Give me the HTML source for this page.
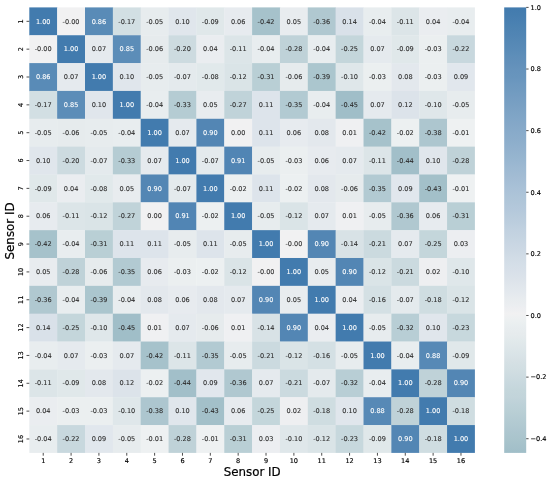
<!DOCTYPE html>
<html lang="en"><head><meta charset="utf-8"><title>Sensor correlation heatmap</title>
<style>html,body{margin:0;padding:0;background:#fff}body{width:550px;height:480px;overflow:hidden}svg{display:block}text{font-family:"DejaVu Sans","Liberation Sans",sans-serif}.a{font-size:6.55px;text-anchor:middle;fill:#2e2e2e;stroke:#2e2e2e;stroke-width:.1px}.w{fill:#fff;stroke:#fff}.t{font-size:6.55px;fill:#000;stroke:#000;stroke-width:.15px}.l{font-size:11.85px;fill:#000;text-anchor:middle;stroke:#000;stroke-width:.2px}.k{stroke:#000;stroke-width:0.7;fill:none}</style></head><body>
<svg width="550" height="480" viewBox="0 0 550 480">
<defs><linearGradient id="cb" x1="0" y1="1" x2="0" y2="0">
<stop offset="0.0000" stop-color="#a0bec8"/>
<stop offset="0.0156" stop-color="#a5c1ca"/>
<stop offset="0.0312" stop-color="#a9c4cc"/>
<stop offset="0.0469" stop-color="#adc6cf"/>
<stop offset="0.0625" stop-color="#b1c9d1"/>
<stop offset="0.0781" stop-color="#b5ccd3"/>
<stop offset="0.0938" stop-color="#b9cfd5"/>
<stop offset="0.1094" stop-color="#bdd1d8"/>
<stop offset="0.1250" stop-color="#c2d4da"/>
<stop offset="0.1406" stop-color="#c4d6db"/>
<stop offset="0.1562" stop-color="#c8d8de"/>
<stop offset="0.1719" stop-color="#cddbe0"/>
<stop offset="0.1875" stop-color="#d1dee2"/>
<stop offset="0.2031" stop-color="#d5e0e4"/>
<stop offset="0.2188" stop-color="#d9e3e7"/>
<stop offset="0.2344" stop-color="#dde6e9"/>
<stop offset="0.2500" stop-color="#e1e9eb"/>
<stop offset="0.2656" stop-color="#e6ebed"/>
<stop offset="0.2812" stop-color="#e8edef"/>
<stop offset="0.2969" stop-color="#ecf0f1"/>
<stop offset="0.3125" stop-color="#f1f1f2"/>
<stop offset="0.3281" stop-color="#eceef1"/>
<stop offset="0.3438" stop-color="#e8ecef"/>
<stop offset="0.3594" stop-color="#e4e9ee"/>
<stop offset="0.3750" stop-color="#e0e6ec"/>
<stop offset="0.3906" stop-color="#dce3ea"/>
<stop offset="0.4062" stop-color="#d8e0e9"/>
<stop offset="0.4219" stop-color="#d5dfe8"/>
<stop offset="0.4375" stop-color="#d1dce6"/>
<stop offset="0.4531" stop-color="#cdd9e4"/>
<stop offset="0.4688" stop-color="#c9d6e3"/>
<stop offset="0.4844" stop-color="#c5d4e1"/>
<stop offset="0.5000" stop-color="#c1d1e0"/>
<stop offset="0.5156" stop-color="#bccede"/>
<stop offset="0.5312" stop-color="#b8cbdc"/>
<stop offset="0.5469" stop-color="#b4c8db"/>
<stop offset="0.5625" stop-color="#b0c6d9"/>
<stop offset="0.5781" stop-color="#adc4d8"/>
<stop offset="0.5938" stop-color="#a9c1d7"/>
<stop offset="0.6094" stop-color="#a5bed5"/>
<stop offset="0.6250" stop-color="#a1bbd3"/>
<stop offset="0.6406" stop-color="#9db9d2"/>
<stop offset="0.6562" stop-color="#98b6d0"/>
<stop offset="0.6719" stop-color="#94b3ce"/>
<stop offset="0.6875" stop-color="#90b0cd"/>
<stop offset="0.7031" stop-color="#8cadcb"/>
<stop offset="0.7188" stop-color="#89abca"/>
<stop offset="0.7344" stop-color="#85a8c8"/>
<stop offset="0.7500" stop-color="#81a6c7"/>
<stop offset="0.7656" stop-color="#7da3c5"/>
<stop offset="0.7812" stop-color="#79a0c3"/>
<stop offset="0.7969" stop-color="#759dc2"/>
<stop offset="0.8125" stop-color="#719bc0"/>
<stop offset="0.8281" stop-color="#6d98bf"/>
<stop offset="0.8438" stop-color="#6895bd"/>
<stop offset="0.8594" stop-color="#6693bc"/>
<stop offset="0.8750" stop-color="#6290ba"/>
<stop offset="0.8906" stop-color="#5e8eb9"/>
<stop offset="0.9062" stop-color="#598bb7"/>
<stop offset="0.9219" stop-color="#5588b5"/>
<stop offset="0.9375" stop-color="#5185b4"/>
<stop offset="0.9531" stop-color="#4d83b2"/>
<stop offset="0.9688" stop-color="#4980b1"/>
<stop offset="0.9844" stop-color="#457daf"/>
<stop offset="1.0000" stop-color="#427bae"/>
</linearGradient></defs>
<rect width="550" height="480" fill="#fff"/>
<g>
<rect x="29.30" y="7.40" width="28.15" height="28.14" fill="#427bae"/>
<rect x="57.15" y="7.40" width="28.15" height="28.14" fill="#f1f1f2"/>
<rect x="85.00" y="7.40" width="28.15" height="28.14" fill="#598bb7"/>
<rect x="112.85" y="7.40" width="28.15" height="28.14" fill="#d2dfe3"/>
<rect x="140.70" y="7.40" width="28.15" height="28.14" fill="#e7ecee"/>
<rect x="168.55" y="7.40" width="28.15" height="28.14" fill="#e0e6ec"/>
<rect x="196.40" y="7.40" width="28.15" height="28.14" fill="#e0e8ea"/>
<rect x="224.25" y="7.40" width="28.15" height="28.14" fill="#e7ebef"/>
<rect x="252.10" y="7.40" width="28.15" height="28.14" fill="#a6c2cb"/>
<rect x="279.95" y="7.40" width="28.15" height="28.14" fill="#e8ecef"/>
<rect x="307.80" y="7.40" width="28.15" height="28.14" fill="#b0c8d0"/>
<rect x="335.65" y="7.40" width="28.15" height="28.14" fill="#d9e1e9"/>
<rect x="363.50" y="7.40" width="28.15" height="28.14" fill="#e8edef"/>
<rect x="391.35" y="7.40" width="28.15" height="28.14" fill="#dce5e8"/>
<rect x="419.20" y="7.40" width="28.15" height="28.14" fill="#eaedf0"/>
<rect x="447.05" y="7.40" width="27.85" height="28.14" fill="#e8edef"/>
<rect x="29.30" y="35.24" width="28.15" height="28.14" fill="#f1f1f2"/>
<rect x="57.15" y="35.24" width="28.15" height="28.14" fill="#427bae"/>
<rect x="85.00" y="35.24" width="28.15" height="28.14" fill="#e5eaee"/>
<rect x="112.85" y="35.24" width="28.15" height="28.14" fill="#5c8db8"/>
<rect x="140.70" y="35.24" width="28.15" height="28.14" fill="#e6ebed"/>
<rect x="168.55" y="35.24" width="28.15" height="28.14" fill="#cddbe0"/>
<rect x="196.40" y="35.24" width="28.15" height="28.14" fill="#eaedf0"/>
<rect x="224.25" y="35.24" width="28.15" height="28.14" fill="#dce5e8"/>
<rect x="252.10" y="35.24" width="28.15" height="28.14" fill="#e8edef"/>
<rect x="279.95" y="35.24" width="28.15" height="28.14" fill="#bfd2d8"/>
<rect x="307.80" y="35.24" width="28.15" height="28.14" fill="#e8edef"/>
<rect x="335.65" y="35.24" width="28.15" height="28.14" fill="#c4d6db"/>
<rect x="363.50" y="35.24" width="28.15" height="28.14" fill="#e5eaee"/>
<rect x="391.35" y="35.24" width="28.15" height="28.14" fill="#e0e8ea"/>
<rect x="419.20" y="35.24" width="28.15" height="28.14" fill="#ebeff0"/>
<rect x="447.05" y="35.24" width="27.85" height="28.14" fill="#c8d8de"/>
<rect x="29.30" y="63.09" width="28.15" height="28.14" fill="#598bb7"/>
<rect x="57.15" y="63.09" width="28.15" height="28.14" fill="#e5eaee"/>
<rect x="85.00" y="63.09" width="28.15" height="28.14" fill="#427bae"/>
<rect x="112.85" y="63.09" width="28.15" height="28.14" fill="#e0e6ec"/>
<rect x="140.70" y="63.09" width="28.15" height="28.14" fill="#e7ecee"/>
<rect x="168.55" y="63.09" width="28.15" height="28.14" fill="#e4eaed"/>
<rect x="196.40" y="63.09" width="28.15" height="28.14" fill="#e1e9eb"/>
<rect x="224.25" y="63.09" width="28.15" height="28.14" fill="#dae4e7"/>
<rect x="252.10" y="63.09" width="28.15" height="28.14" fill="#b9cfd5"/>
<rect x="279.95" y="63.09" width="28.15" height="28.14" fill="#e6ebed"/>
<rect x="307.80" y="63.09" width="28.15" height="28.14" fill="#abc6ce"/>
<rect x="335.65" y="63.09" width="28.15" height="28.14" fill="#dfe7ea"/>
<rect x="363.50" y="63.09" width="28.15" height="28.14" fill="#ebeff0"/>
<rect x="391.35" y="63.09" width="28.15" height="28.14" fill="#e3e8ed"/>
<rect x="419.20" y="63.09" width="28.15" height="28.14" fill="#ebeff0"/>
<rect x="447.05" y="63.09" width="27.85" height="28.14" fill="#e1e7ed"/>
<rect x="29.30" y="90.93" width="28.15" height="28.14" fill="#d2dfe3"/>
<rect x="57.15" y="90.93" width="28.15" height="28.14" fill="#5c8db8"/>
<rect x="85.00" y="90.93" width="28.15" height="28.14" fill="#e0e6ec"/>
<rect x="112.85" y="90.93" width="28.15" height="28.14" fill="#427bae"/>
<rect x="140.70" y="90.93" width="28.15" height="28.14" fill="#e8edef"/>
<rect x="168.55" y="90.93" width="28.15" height="28.14" fill="#b5ccd3"/>
<rect x="196.40" y="90.93" width="28.15" height="28.14" fill="#e8ecef"/>
<rect x="224.25" y="90.93" width="28.15" height="28.14" fill="#c0d3d9"/>
<rect x="252.10" y="90.93" width="28.15" height="28.14" fill="#dde4eb"/>
<rect x="279.95" y="90.93" width="28.15" height="28.14" fill="#b2cad2"/>
<rect x="307.80" y="90.93" width="28.15" height="28.14" fill="#e8edef"/>
<rect x="335.65" y="90.93" width="28.15" height="28.14" fill="#a0bec8"/>
<rect x="363.50" y="90.93" width="28.15" height="28.14" fill="#e5eaee"/>
<rect x="391.35" y="90.93" width="28.15" height="28.14" fill="#dce3ea"/>
<rect x="419.20" y="90.93" width="28.15" height="28.14" fill="#dfe7ea"/>
<rect x="447.05" y="90.93" width="27.85" height="28.14" fill="#e7ecee"/>
<rect x="29.30" y="118.78" width="28.15" height="28.14" fill="#e7ecee"/>
<rect x="57.15" y="118.78" width="28.15" height="28.14" fill="#e6ebed"/>
<rect x="85.00" y="118.78" width="28.15" height="28.14" fill="#e7ecee"/>
<rect x="112.85" y="118.78" width="28.15" height="28.14" fill="#e8edef"/>
<rect x="140.70" y="118.78" width="28.15" height="28.14" fill="#427bae"/>
<rect x="168.55" y="118.78" width="28.15" height="28.14" fill="#e5eaee"/>
<rect x="196.40" y="118.78" width="28.15" height="28.14" fill="#5386b4"/>
<rect x="224.25" y="118.78" width="28.15" height="28.14" fill="#f1f1f2"/>
<rect x="252.10" y="118.78" width="28.15" height="28.14" fill="#dde4eb"/>
<rect x="279.95" y="118.78" width="28.15" height="28.14" fill="#e7ebef"/>
<rect x="307.80" y="118.78" width="28.15" height="28.14" fill="#e3e8ed"/>
<rect x="335.65" y="118.78" width="28.15" height="28.14" fill="#eff0f2"/>
<rect x="363.50" y="118.78" width="28.15" height="28.14" fill="#a6c2cb"/>
<rect x="391.35" y="118.78" width="28.15" height="28.14" fill="#ecf0f1"/>
<rect x="419.20" y="118.78" width="28.15" height="28.14" fill="#adc6cf"/>
<rect x="447.05" y="118.78" width="27.85" height="28.14" fill="#eef1f2"/>
<rect x="29.30" y="146.62" width="28.15" height="28.14" fill="#e0e6ec"/>
<rect x="57.15" y="146.62" width="28.15" height="28.14" fill="#cddbe0"/>
<rect x="85.00" y="146.62" width="28.15" height="28.14" fill="#e4eaed"/>
<rect x="112.85" y="146.62" width="28.15" height="28.14" fill="#b5ccd3"/>
<rect x="140.70" y="146.62" width="28.15" height="28.14" fill="#e5eaee"/>
<rect x="168.55" y="146.62" width="28.15" height="28.14" fill="#427bae"/>
<rect x="196.40" y="146.62" width="28.15" height="28.14" fill="#e4eaed"/>
<rect x="224.25" y="146.62" width="28.15" height="28.14" fill="#5185b4"/>
<rect x="252.10" y="146.62" width="28.15" height="28.14" fill="#e7ecee"/>
<rect x="279.95" y="146.62" width="28.15" height="28.14" fill="#ebeff0"/>
<rect x="307.80" y="146.62" width="28.15" height="28.14" fill="#e7ebef"/>
<rect x="335.65" y="146.62" width="28.15" height="28.14" fill="#e5eaee"/>
<rect x="363.50" y="146.62" width="28.15" height="28.14" fill="#dce5e8"/>
<rect x="391.35" y="146.62" width="28.15" height="28.14" fill="#a2bfc9"/>
<rect x="419.20" y="146.62" width="28.15" height="28.14" fill="#e0e6ec"/>
<rect x="447.05" y="146.62" width="27.85" height="28.14" fill="#bfd2d8"/>
<rect x="29.30" y="174.46" width="28.15" height="28.14" fill="#e0e8ea"/>
<rect x="57.15" y="174.46" width="28.15" height="28.14" fill="#eaedf0"/>
<rect x="85.00" y="174.46" width="28.15" height="28.14" fill="#e1e9eb"/>
<rect x="112.85" y="174.46" width="28.15" height="28.14" fill="#e8ecef"/>
<rect x="140.70" y="174.46" width="28.15" height="28.14" fill="#5386b4"/>
<rect x="168.55" y="174.46" width="28.15" height="28.14" fill="#e4eaed"/>
<rect x="196.40" y="174.46" width="28.15" height="28.14" fill="#427bae"/>
<rect x="224.25" y="174.46" width="28.15" height="28.14" fill="#ecf0f1"/>
<rect x="252.10" y="174.46" width="28.15" height="28.14" fill="#dde4eb"/>
<rect x="279.95" y="174.46" width="28.15" height="28.14" fill="#ecf0f1"/>
<rect x="307.80" y="174.46" width="28.15" height="28.14" fill="#e3e8ed"/>
<rect x="335.65" y="174.46" width="28.15" height="28.14" fill="#e6ebed"/>
<rect x="363.50" y="174.46" width="28.15" height="28.14" fill="#b2cad2"/>
<rect x="391.35" y="174.46" width="28.15" height="28.14" fill="#e1e7ed"/>
<rect x="419.20" y="174.46" width="28.15" height="28.14" fill="#a3c0c9"/>
<rect x="447.05" y="174.46" width="27.85" height="28.14" fill="#eef1f2"/>
<rect x="29.30" y="202.31" width="28.15" height="28.14" fill="#e7ebef"/>
<rect x="57.15" y="202.31" width="28.15" height="28.14" fill="#dce5e8"/>
<rect x="85.00" y="202.31" width="28.15" height="28.14" fill="#dae4e7"/>
<rect x="112.85" y="202.31" width="28.15" height="28.14" fill="#c0d3d9"/>
<rect x="140.70" y="202.31" width="28.15" height="28.14" fill="#f1f1f2"/>
<rect x="168.55" y="202.31" width="28.15" height="28.14" fill="#5185b4"/>
<rect x="196.40" y="202.31" width="28.15" height="28.14" fill="#ecf0f1"/>
<rect x="224.25" y="202.31" width="28.15" height="28.14" fill="#427bae"/>
<rect x="252.10" y="202.31" width="28.15" height="28.14" fill="#e7ecee"/>
<rect x="279.95" y="202.31" width="28.15" height="28.14" fill="#dae4e7"/>
<rect x="307.80" y="202.31" width="28.15" height="28.14" fill="#e5eaee"/>
<rect x="335.65" y="202.31" width="28.15" height="28.14" fill="#eff0f2"/>
<rect x="363.50" y="202.31" width="28.15" height="28.14" fill="#e7ecee"/>
<rect x="391.35" y="202.31" width="28.15" height="28.14" fill="#b0c8d0"/>
<rect x="419.20" y="202.31" width="28.15" height="28.14" fill="#e7ebef"/>
<rect x="447.05" y="202.31" width="27.85" height="28.14" fill="#b9cfd5"/>
<rect x="29.30" y="230.15" width="28.15" height="28.14" fill="#a6c2cb"/>
<rect x="57.15" y="230.15" width="28.15" height="28.14" fill="#e8edef"/>
<rect x="85.00" y="230.15" width="28.15" height="28.14" fill="#b9cfd5"/>
<rect x="112.85" y="230.15" width="28.15" height="28.14" fill="#dde4eb"/>
<rect x="140.70" y="230.15" width="28.15" height="28.14" fill="#dde4eb"/>
<rect x="168.55" y="230.15" width="28.15" height="28.14" fill="#e7ecee"/>
<rect x="196.40" y="230.15" width="28.15" height="28.14" fill="#dde4eb"/>
<rect x="224.25" y="230.15" width="28.15" height="28.14" fill="#e7ecee"/>
<rect x="252.10" y="230.15" width="28.15" height="28.14" fill="#427bae"/>
<rect x="279.95" y="230.15" width="28.15" height="28.14" fill="#f1f1f2"/>
<rect x="307.80" y="230.15" width="28.15" height="28.14" fill="#5386b4"/>
<rect x="335.65" y="230.15" width="28.15" height="28.14" fill="#d8e2e6"/>
<rect x="363.50" y="230.15" width="28.15" height="28.14" fill="#cbdadf"/>
<rect x="391.35" y="230.15" width="28.15" height="28.14" fill="#e5eaee"/>
<rect x="419.20" y="230.15" width="28.15" height="28.14" fill="#c4d6db"/>
<rect x="447.05" y="230.15" width="27.85" height="28.14" fill="#eceef1"/>
<rect x="29.30" y="257.99" width="28.15" height="28.14" fill="#e8ecef"/>
<rect x="57.15" y="257.99" width="28.15" height="28.14" fill="#bfd2d8"/>
<rect x="85.00" y="257.99" width="28.15" height="28.14" fill="#e6ebed"/>
<rect x="112.85" y="257.99" width="28.15" height="28.14" fill="#b2cad2"/>
<rect x="140.70" y="257.99" width="28.15" height="28.14" fill="#e7ebef"/>
<rect x="168.55" y="257.99" width="28.15" height="28.14" fill="#ebeff0"/>
<rect x="196.40" y="257.99" width="28.15" height="28.14" fill="#ecf0f1"/>
<rect x="224.25" y="257.99" width="28.15" height="28.14" fill="#dae4e7"/>
<rect x="252.10" y="257.99" width="28.15" height="28.14" fill="#f1f1f2"/>
<rect x="279.95" y="257.99" width="28.15" height="28.14" fill="#427bae"/>
<rect x="307.80" y="257.99" width="28.15" height="28.14" fill="#e8ecef"/>
<rect x="335.65" y="257.99" width="28.15" height="28.14" fill="#5386b4"/>
<rect x="363.50" y="257.99" width="28.15" height="28.14" fill="#dae4e7"/>
<rect x="391.35" y="257.99" width="28.15" height="28.14" fill="#cbdadf"/>
<rect x="419.20" y="257.99" width="28.15" height="28.14" fill="#eeeff1"/>
<rect x="447.05" y="257.99" width="27.85" height="28.14" fill="#dfe7ea"/>
<rect x="29.30" y="285.84" width="28.15" height="28.14" fill="#b0c8d0"/>
<rect x="57.15" y="285.84" width="28.15" height="28.14" fill="#e8edef"/>
<rect x="85.00" y="285.84" width="28.15" height="28.14" fill="#abc6ce"/>
<rect x="112.85" y="285.84" width="28.15" height="28.14" fill="#e8edef"/>
<rect x="140.70" y="285.84" width="28.15" height="28.14" fill="#e3e8ed"/>
<rect x="168.55" y="285.84" width="28.15" height="28.14" fill="#e7ebef"/>
<rect x="196.40" y="285.84" width="28.15" height="28.14" fill="#e3e8ed"/>
<rect x="224.25" y="285.84" width="28.15" height="28.14" fill="#e5eaee"/>
<rect x="252.10" y="285.84" width="28.15" height="28.14" fill="#5386b4"/>
<rect x="279.95" y="285.84" width="28.15" height="28.14" fill="#e8ecef"/>
<rect x="307.80" y="285.84" width="28.15" height="28.14" fill="#427bae"/>
<rect x="335.65" y="285.84" width="28.15" height="28.14" fill="#eaedf0"/>
<rect x="363.50" y="285.84" width="28.15" height="28.14" fill="#d4e0e4"/>
<rect x="391.35" y="285.84" width="28.15" height="28.14" fill="#e4eaed"/>
<rect x="419.20" y="285.84" width="28.15" height="28.14" fill="#cfdde1"/>
<rect x="447.05" y="285.84" width="27.85" height="28.14" fill="#dae4e7"/>
<rect x="29.30" y="313.68" width="28.15" height="28.14" fill="#d9e1e9"/>
<rect x="57.15" y="313.68" width="28.15" height="28.14" fill="#c4d6db"/>
<rect x="85.00" y="313.68" width="28.15" height="28.14" fill="#dfe7ea"/>
<rect x="112.85" y="313.68" width="28.15" height="28.14" fill="#a0bec8"/>
<rect x="140.70" y="313.68" width="28.15" height="28.14" fill="#eff0f2"/>
<rect x="168.55" y="313.68" width="28.15" height="28.14" fill="#e5eaee"/>
<rect x="196.40" y="313.68" width="28.15" height="28.14" fill="#e6ebed"/>
<rect x="224.25" y="313.68" width="28.15" height="28.14" fill="#eff0f2"/>
<rect x="252.10" y="313.68" width="28.15" height="28.14" fill="#d8e2e6"/>
<rect x="279.95" y="313.68" width="28.15" height="28.14" fill="#5386b4"/>
<rect x="307.80" y="313.68" width="28.15" height="28.14" fill="#eaedf0"/>
<rect x="335.65" y="313.68" width="28.15" height="28.14" fill="#427bae"/>
<rect x="363.50" y="313.68" width="28.15" height="28.14" fill="#e7ecee"/>
<rect x="391.35" y="313.68" width="28.15" height="28.14" fill="#b8ced5"/>
<rect x="419.20" y="313.68" width="28.15" height="28.14" fill="#e0e6ec"/>
<rect x="447.05" y="313.68" width="27.85" height="28.14" fill="#c7d8dd"/>
<rect x="29.30" y="341.52" width="28.15" height="28.14" fill="#e8edef"/>
<rect x="57.15" y="341.52" width="28.15" height="28.14" fill="#e5eaee"/>
<rect x="85.00" y="341.52" width="28.15" height="28.14" fill="#ebeff0"/>
<rect x="112.85" y="341.52" width="28.15" height="28.14" fill="#e5eaee"/>
<rect x="140.70" y="341.52" width="28.15" height="28.14" fill="#a6c2cb"/>
<rect x="168.55" y="341.52" width="28.15" height="28.14" fill="#dce5e8"/>
<rect x="196.40" y="341.52" width="28.15" height="28.14" fill="#b2cad2"/>
<rect x="224.25" y="341.52" width="28.15" height="28.14" fill="#e7ecee"/>
<rect x="252.10" y="341.52" width="28.15" height="28.14" fill="#cbdadf"/>
<rect x="279.95" y="341.52" width="28.15" height="28.14" fill="#dae4e7"/>
<rect x="307.80" y="341.52" width="28.15" height="28.14" fill="#d4e0e4"/>
<rect x="335.65" y="341.52" width="28.15" height="28.14" fill="#e7ecee"/>
<rect x="363.50" y="341.52" width="28.15" height="28.14" fill="#427bae"/>
<rect x="391.35" y="341.52" width="28.15" height="28.14" fill="#e8edef"/>
<rect x="419.20" y="341.52" width="28.15" height="28.14" fill="#5789b6"/>
<rect x="447.05" y="341.52" width="27.85" height="28.14" fill="#e0e8ea"/>
<rect x="29.30" y="369.37" width="28.15" height="28.14" fill="#dce5e8"/>
<rect x="57.15" y="369.37" width="28.15" height="28.14" fill="#e0e8ea"/>
<rect x="85.00" y="369.37" width="28.15" height="28.14" fill="#e3e8ed"/>
<rect x="112.85" y="369.37" width="28.15" height="28.14" fill="#dce3ea"/>
<rect x="140.70" y="369.37" width="28.15" height="28.14" fill="#ecf0f1"/>
<rect x="168.55" y="369.37" width="28.15" height="28.14" fill="#a2bfc9"/>
<rect x="196.40" y="369.37" width="28.15" height="28.14" fill="#e1e7ed"/>
<rect x="224.25" y="369.37" width="28.15" height="28.14" fill="#b0c8d0"/>
<rect x="252.10" y="369.37" width="28.15" height="28.14" fill="#e5eaee"/>
<rect x="279.95" y="369.37" width="28.15" height="28.14" fill="#cbdadf"/>
<rect x="307.80" y="369.37" width="28.15" height="28.14" fill="#e4eaed"/>
<rect x="335.65" y="369.37" width="28.15" height="28.14" fill="#b8ced5"/>
<rect x="363.50" y="369.37" width="28.15" height="28.14" fill="#e8edef"/>
<rect x="391.35" y="369.37" width="28.15" height="28.14" fill="#427bae"/>
<rect x="419.20" y="369.37" width="28.15" height="28.14" fill="#bfd2d8"/>
<rect x="447.05" y="369.37" width="27.85" height="28.14" fill="#5386b4"/>
<rect x="29.30" y="397.21" width="28.15" height="28.14" fill="#eaedf0"/>
<rect x="57.15" y="397.21" width="28.15" height="28.14" fill="#ebeff0"/>
<rect x="85.00" y="397.21" width="28.15" height="28.14" fill="#ebeff0"/>
<rect x="112.85" y="397.21" width="28.15" height="28.14" fill="#dfe7ea"/>
<rect x="140.70" y="397.21" width="28.15" height="28.14" fill="#adc6cf"/>
<rect x="168.55" y="397.21" width="28.15" height="28.14" fill="#e0e6ec"/>
<rect x="196.40" y="397.21" width="28.15" height="28.14" fill="#a3c0c9"/>
<rect x="224.25" y="397.21" width="28.15" height="28.14" fill="#e7ebef"/>
<rect x="252.10" y="397.21" width="28.15" height="28.14" fill="#c4d6db"/>
<rect x="279.95" y="397.21" width="28.15" height="28.14" fill="#eeeff1"/>
<rect x="307.80" y="397.21" width="28.15" height="28.14" fill="#cfdde1"/>
<rect x="335.65" y="397.21" width="28.15" height="28.14" fill="#e0e6ec"/>
<rect x="363.50" y="397.21" width="28.15" height="28.14" fill="#5789b6"/>
<rect x="391.35" y="397.21" width="28.15" height="28.14" fill="#bfd2d8"/>
<rect x="419.20" y="397.21" width="28.15" height="28.14" fill="#427bae"/>
<rect x="447.05" y="397.21" width="27.85" height="28.14" fill="#cfdde1"/>
<rect x="29.30" y="425.06" width="28.15" height="27.84" fill="#e8edef"/>
<rect x="57.15" y="425.06" width="28.15" height="27.84" fill="#c8d8de"/>
<rect x="85.00" y="425.06" width="28.15" height="27.84" fill="#e1e7ed"/>
<rect x="112.85" y="425.06" width="28.15" height="27.84" fill="#e7ecee"/>
<rect x="140.70" y="425.06" width="28.15" height="27.84" fill="#eef1f2"/>
<rect x="168.55" y="425.06" width="28.15" height="27.84" fill="#bfd2d8"/>
<rect x="196.40" y="425.06" width="28.15" height="27.84" fill="#eef1f2"/>
<rect x="224.25" y="425.06" width="28.15" height="27.84" fill="#b9cfd5"/>
<rect x="252.10" y="425.06" width="28.15" height="27.84" fill="#eceef1"/>
<rect x="279.95" y="425.06" width="28.15" height="27.84" fill="#dfe7ea"/>
<rect x="307.80" y="425.06" width="28.15" height="27.84" fill="#dae4e7"/>
<rect x="335.65" y="425.06" width="28.15" height="27.84" fill="#c7d8dd"/>
<rect x="363.50" y="425.06" width="28.15" height="27.84" fill="#e0e8ea"/>
<rect x="391.35" y="425.06" width="28.15" height="27.84" fill="#5386b4"/>
<rect x="419.20" y="425.06" width="28.15" height="27.84" fill="#cfdde1"/>
<rect x="447.05" y="425.06" width="27.85" height="27.84" fill="#427bae"/>
</g>
<g class="a">
<text x="43.23" y="23.51" class="w">1.00</text>
<text x="71.08" y="23.51">-0.00</text>
<text x="98.92" y="23.51" class="w">0.86</text>
<text x="126.77" y="23.51">-0.17</text>
<text x="154.62" y="23.51">-0.05</text>
<text x="182.47" y="23.51">0.10</text>
<text x="210.32" y="23.51">-0.09</text>
<text x="238.17" y="23.51">0.06</text>
<text x="266.02" y="23.51">-0.42</text>
<text x="293.88" y="23.51">0.05</text>
<text x="321.72" y="23.51">-0.36</text>
<text x="349.57" y="23.51">0.14</text>
<text x="377.43" y="23.51">-0.04</text>
<text x="405.27" y="23.51">-0.11</text>
<text x="433.12" y="23.51">0.04</text>
<text x="460.97" y="23.51">-0.04</text>
<text x="43.23" y="51.35">-0.00</text>
<text x="71.08" y="51.35" class="w">1.00</text>
<text x="98.92" y="51.35">0.07</text>
<text x="126.77" y="51.35" class="w">0.85</text>
<text x="154.62" y="51.35">-0.06</text>
<text x="182.47" y="51.35">-0.20</text>
<text x="210.32" y="51.35">0.04</text>
<text x="238.17" y="51.35">-0.11</text>
<text x="266.02" y="51.35">-0.04</text>
<text x="293.88" y="51.35">-0.28</text>
<text x="321.72" y="51.35">-0.04</text>
<text x="349.57" y="51.35">-0.25</text>
<text x="377.43" y="51.35">0.07</text>
<text x="405.27" y="51.35">-0.09</text>
<text x="433.12" y="51.35">-0.03</text>
<text x="460.97" y="51.35">-0.22</text>
<text x="43.23" y="79.20" class="w">0.86</text>
<text x="71.08" y="79.20">0.07</text>
<text x="98.92" y="79.20" class="w">1.00</text>
<text x="126.77" y="79.20">0.10</text>
<text x="154.62" y="79.20">-0.05</text>
<text x="182.47" y="79.20">-0.07</text>
<text x="210.32" y="79.20">-0.08</text>
<text x="238.17" y="79.20">-0.12</text>
<text x="266.02" y="79.20">-0.31</text>
<text x="293.88" y="79.20">-0.06</text>
<text x="321.72" y="79.20">-0.39</text>
<text x="349.57" y="79.20">-0.10</text>
<text x="377.43" y="79.20">-0.03</text>
<text x="405.27" y="79.20">0.08</text>
<text x="433.12" y="79.20">-0.03</text>
<text x="460.97" y="79.20">0.09</text>
<text x="43.23" y="107.04">-0.17</text>
<text x="71.08" y="107.04" class="w">0.85</text>
<text x="98.92" y="107.04">0.10</text>
<text x="126.77" y="107.04" class="w">1.00</text>
<text x="154.62" y="107.04">-0.04</text>
<text x="182.47" y="107.04">-0.33</text>
<text x="210.32" y="107.04">0.05</text>
<text x="238.17" y="107.04">-0.27</text>
<text x="266.02" y="107.04">0.11</text>
<text x="293.88" y="107.04">-0.35</text>
<text x="321.72" y="107.04">-0.04</text>
<text x="349.57" y="107.04">-0.45</text>
<text x="377.43" y="107.04">0.07</text>
<text x="405.27" y="107.04">0.12</text>
<text x="433.12" y="107.04">-0.10</text>
<text x="460.97" y="107.04">-0.05</text>
<text x="43.23" y="134.88">-0.05</text>
<text x="71.08" y="134.88">-0.06</text>
<text x="98.92" y="134.88">-0.05</text>
<text x="126.77" y="134.88">-0.04</text>
<text x="154.62" y="134.88" class="w">1.00</text>
<text x="182.47" y="134.88">0.07</text>
<text x="210.32" y="134.88" class="w">0.90</text>
<text x="238.17" y="134.88">0.00</text>
<text x="266.02" y="134.88">0.11</text>
<text x="293.88" y="134.88">0.06</text>
<text x="321.72" y="134.88">0.08</text>
<text x="349.57" y="134.88">0.01</text>
<text x="377.43" y="134.88">-0.42</text>
<text x="405.27" y="134.88">-0.02</text>
<text x="433.12" y="134.88">-0.38</text>
<text x="460.97" y="134.88">-0.01</text>
<text x="43.23" y="162.73">0.10</text>
<text x="71.08" y="162.73">-0.20</text>
<text x="98.92" y="162.73">-0.07</text>
<text x="126.77" y="162.73">-0.33</text>
<text x="154.62" y="162.73">0.07</text>
<text x="182.47" y="162.73" class="w">1.00</text>
<text x="210.32" y="162.73">-0.07</text>
<text x="238.17" y="162.73" class="w">0.91</text>
<text x="266.02" y="162.73">-0.05</text>
<text x="293.88" y="162.73">-0.03</text>
<text x="321.72" y="162.73">0.06</text>
<text x="349.57" y="162.73">0.07</text>
<text x="377.43" y="162.73">-0.11</text>
<text x="405.27" y="162.73">-0.44</text>
<text x="433.12" y="162.73">0.10</text>
<text x="460.97" y="162.73">-0.28</text>
<text x="43.23" y="190.57">-0.09</text>
<text x="71.08" y="190.57">0.04</text>
<text x="98.92" y="190.57">-0.08</text>
<text x="126.77" y="190.57">0.05</text>
<text x="154.62" y="190.57" class="w">0.90</text>
<text x="182.47" y="190.57">-0.07</text>
<text x="210.32" y="190.57" class="w">1.00</text>
<text x="238.17" y="190.57">-0.02</text>
<text x="266.02" y="190.57">0.11</text>
<text x="293.88" y="190.57">-0.02</text>
<text x="321.72" y="190.57">0.08</text>
<text x="349.57" y="190.57">-0.06</text>
<text x="377.43" y="190.57">-0.35</text>
<text x="405.27" y="190.57">0.09</text>
<text x="433.12" y="190.57">-0.43</text>
<text x="460.97" y="190.57">-0.01</text>
<text x="43.23" y="218.42">0.06</text>
<text x="71.08" y="218.42">-0.11</text>
<text x="98.92" y="218.42">-0.12</text>
<text x="126.77" y="218.42">-0.27</text>
<text x="154.62" y="218.42">0.00</text>
<text x="182.47" y="218.42" class="w">0.91</text>
<text x="210.32" y="218.42">-0.02</text>
<text x="238.17" y="218.42" class="w">1.00</text>
<text x="266.02" y="218.42">-0.05</text>
<text x="293.88" y="218.42">-0.12</text>
<text x="321.72" y="218.42">0.07</text>
<text x="349.57" y="218.42">0.01</text>
<text x="377.43" y="218.42">-0.05</text>
<text x="405.27" y="218.42">-0.36</text>
<text x="433.12" y="218.42">0.06</text>
<text x="460.97" y="218.42">-0.31</text>
<text x="43.23" y="246.26">-0.42</text>
<text x="71.08" y="246.26">-0.04</text>
<text x="98.92" y="246.26">-0.31</text>
<text x="126.77" y="246.26">0.11</text>
<text x="154.62" y="246.26">0.11</text>
<text x="182.47" y="246.26">-0.05</text>
<text x="210.32" y="246.26">0.11</text>
<text x="238.17" y="246.26">-0.05</text>
<text x="266.02" y="246.26" class="w">1.00</text>
<text x="293.88" y="246.26">-0.00</text>
<text x="321.72" y="246.26" class="w">0.90</text>
<text x="349.57" y="246.26">-0.14</text>
<text x="377.43" y="246.26">-0.21</text>
<text x="405.27" y="246.26">0.07</text>
<text x="433.12" y="246.26">-0.25</text>
<text x="460.97" y="246.26">0.03</text>
<text x="43.23" y="274.10">0.05</text>
<text x="71.08" y="274.10">-0.28</text>
<text x="98.92" y="274.10">-0.06</text>
<text x="126.77" y="274.10">-0.35</text>
<text x="154.62" y="274.10">0.06</text>
<text x="182.47" y="274.10">-0.03</text>
<text x="210.32" y="274.10">-0.02</text>
<text x="238.17" y="274.10">-0.12</text>
<text x="266.02" y="274.10">-0.00</text>
<text x="293.88" y="274.10" class="w">1.00</text>
<text x="321.72" y="274.10">0.05</text>
<text x="349.57" y="274.10" class="w">0.90</text>
<text x="377.43" y="274.10">-0.12</text>
<text x="405.27" y="274.10">-0.21</text>
<text x="433.12" y="274.10">0.02</text>
<text x="460.97" y="274.10">-0.10</text>
<text x="43.23" y="301.95">-0.36</text>
<text x="71.08" y="301.95">-0.04</text>
<text x="98.92" y="301.95">-0.39</text>
<text x="126.77" y="301.95">-0.04</text>
<text x="154.62" y="301.95">0.08</text>
<text x="182.47" y="301.95">0.06</text>
<text x="210.32" y="301.95">0.08</text>
<text x="238.17" y="301.95">0.07</text>
<text x="266.02" y="301.95" class="w">0.90</text>
<text x="293.88" y="301.95">0.05</text>
<text x="321.72" y="301.95" class="w">1.00</text>
<text x="349.57" y="301.95">0.04</text>
<text x="377.43" y="301.95">-0.16</text>
<text x="405.27" y="301.95">-0.07</text>
<text x="433.12" y="301.95">-0.18</text>
<text x="460.97" y="301.95">-0.12</text>
<text x="43.23" y="329.79">0.14</text>
<text x="71.08" y="329.79">-0.25</text>
<text x="98.92" y="329.79">-0.10</text>
<text x="126.77" y="329.79">-0.45</text>
<text x="154.62" y="329.79">0.01</text>
<text x="182.47" y="329.79">0.07</text>
<text x="210.32" y="329.79">-0.06</text>
<text x="238.17" y="329.79">0.01</text>
<text x="266.02" y="329.79">-0.14</text>
<text x="293.88" y="329.79" class="w">0.90</text>
<text x="321.72" y="329.79">0.04</text>
<text x="349.57" y="329.79" class="w">1.00</text>
<text x="377.43" y="329.79">-0.05</text>
<text x="405.27" y="329.79">-0.32</text>
<text x="433.12" y="329.79">0.10</text>
<text x="460.97" y="329.79">-0.23</text>
<text x="43.23" y="357.63">-0.04</text>
<text x="71.08" y="357.63">0.07</text>
<text x="98.92" y="357.63">-0.03</text>
<text x="126.77" y="357.63">0.07</text>
<text x="154.62" y="357.63">-0.42</text>
<text x="182.47" y="357.63">-0.11</text>
<text x="210.32" y="357.63">-0.35</text>
<text x="238.17" y="357.63">-0.05</text>
<text x="266.02" y="357.63">-0.21</text>
<text x="293.88" y="357.63">-0.12</text>
<text x="321.72" y="357.63">-0.16</text>
<text x="349.57" y="357.63">-0.05</text>
<text x="377.43" y="357.63" class="w">1.00</text>
<text x="405.27" y="357.63">-0.04</text>
<text x="433.12" y="357.63" class="w">0.88</text>
<text x="460.97" y="357.63">-0.09</text>
<text x="43.23" y="385.48">-0.11</text>
<text x="71.08" y="385.48">-0.09</text>
<text x="98.92" y="385.48">0.08</text>
<text x="126.77" y="385.48">0.12</text>
<text x="154.62" y="385.48">-0.02</text>
<text x="182.47" y="385.48">-0.44</text>
<text x="210.32" y="385.48">0.09</text>
<text x="238.17" y="385.48">-0.36</text>
<text x="266.02" y="385.48">0.07</text>
<text x="293.88" y="385.48">-0.21</text>
<text x="321.72" y="385.48">-0.07</text>
<text x="349.57" y="385.48">-0.32</text>
<text x="377.43" y="385.48">-0.04</text>
<text x="405.27" y="385.48" class="w">1.00</text>
<text x="433.12" y="385.48">-0.28</text>
<text x="460.97" y="385.48" class="w">0.90</text>
<text x="43.23" y="413.32">0.04</text>
<text x="71.08" y="413.32">-0.03</text>
<text x="98.92" y="413.32">-0.03</text>
<text x="126.77" y="413.32">-0.10</text>
<text x="154.62" y="413.32">-0.38</text>
<text x="182.47" y="413.32">0.10</text>
<text x="210.32" y="413.32">-0.43</text>
<text x="238.17" y="413.32">0.06</text>
<text x="266.02" y="413.32">-0.25</text>
<text x="293.88" y="413.32">0.02</text>
<text x="321.72" y="413.32">-0.18</text>
<text x="349.57" y="413.32">0.10</text>
<text x="377.43" y="413.32" class="w">0.88</text>
<text x="405.27" y="413.32">-0.28</text>
<text x="433.12" y="413.32" class="w">1.00</text>
<text x="460.97" y="413.32">-0.18</text>
<text x="43.23" y="441.17">-0.04</text>
<text x="71.08" y="441.17">-0.22</text>
<text x="98.92" y="441.17">0.09</text>
<text x="126.77" y="441.17">-0.05</text>
<text x="154.62" y="441.17">-0.01</text>
<text x="182.47" y="441.17">-0.28</text>
<text x="210.32" y="441.17">-0.01</text>
<text x="238.17" y="441.17">-0.31</text>
<text x="266.02" y="441.17">0.03</text>
<text x="293.88" y="441.17">-0.10</text>
<text x="321.72" y="441.17">-0.12</text>
<text x="349.57" y="441.17">-0.23</text>
<text x="377.43" y="441.17">-0.09</text>
<text x="405.27" y="441.17" class="w">0.90</text>
<text x="433.12" y="441.17">-0.18</text>
<text x="460.97" y="441.17" class="w">1.00</text>
</g>
<g class="k">
<path d="M43.23 452.90v2.80"/>
<path d="M71.08 452.90v2.80"/>
<path d="M98.92 452.90v2.80"/>
<path d="M126.77 452.90v2.80"/>
<path d="M154.62 452.90v2.80"/>
<path d="M182.47 452.90v2.80"/>
<path d="M210.32 452.90v2.80"/>
<path d="M238.17 452.90v2.80"/>
<path d="M266.02 452.90v2.80"/>
<path d="M293.88 452.90v2.80"/>
<path d="M321.72 452.90v2.80"/>
<path d="M349.57 452.90v2.80"/>
<path d="M377.43 452.90v2.80"/>
<path d="M405.27 452.90v2.80"/>
<path d="M433.12 452.90v2.80"/>
<path d="M460.97 452.90v2.80"/>
<path d="M29.30 21.32h-2.80"/>
<path d="M29.30 49.17h-2.80"/>
<path d="M29.30 77.01h-2.80"/>
<path d="M29.30 104.85h-2.80"/>
<path d="M29.30 132.70h-2.80"/>
<path d="M29.30 160.54h-2.80"/>
<path d="M29.30 188.38h-2.80"/>
<path d="M29.30 216.23h-2.80"/>
<path d="M29.30 244.07h-2.80"/>
<path d="M29.30 271.92h-2.80"/>
<path d="M29.30 299.76h-2.80"/>
<path d="M29.30 327.60h-2.80"/>
<path d="M29.30 355.45h-2.80"/>
<path d="M29.30 383.29h-2.80"/>
<path d="M29.30 411.13h-2.80"/>
<path d="M29.30 438.98h-2.80"/>
</g>
<g class="t" text-anchor="middle">
<text x="43.23" y="462.90">1</text>
<text x="71.08" y="462.90">2</text>
<text x="98.92" y="462.90">3</text>
<text x="126.77" y="462.90">4</text>
<text x="154.62" y="462.90">5</text>
<text x="182.47" y="462.90">6</text>
<text x="210.32" y="462.90">7</text>
<text x="238.17" y="462.90">8</text>
<text x="266.02" y="462.90">9</text>
<text x="293.88" y="462.90">10</text>
<text x="321.72" y="462.90">11</text>
<text x="349.57" y="462.90">12</text>
<text x="377.43" y="462.90">13</text>
<text x="405.27" y="462.90">14</text>
<text x="433.12" y="462.90">15</text>
<text x="460.97" y="462.90">16</text>
</g>
<g class="t" text-anchor="middle">
<text transform="translate(23.40 21.32) rotate(-90)">1</text>
<text transform="translate(23.40 49.17) rotate(-90)">2</text>
<text transform="translate(23.40 77.01) rotate(-90)">3</text>
<text transform="translate(23.40 104.85) rotate(-90)">4</text>
<text transform="translate(23.40 132.70) rotate(-90)">5</text>
<text transform="translate(23.40 160.54) rotate(-90)">6</text>
<text transform="translate(23.40 188.38) rotate(-90)">7</text>
<text transform="translate(23.40 216.23) rotate(-90)">8</text>
<text transform="translate(23.40 244.07) rotate(-90)">9</text>
<text transform="translate(23.40 271.92) rotate(-90)">10</text>
<text transform="translate(23.40 299.76) rotate(-90)">11</text>
<text transform="translate(23.40 327.60) rotate(-90)">12</text>
<text transform="translate(23.40 355.45) rotate(-90)">13</text>
<text transform="translate(23.40 383.29) rotate(-90)">14</text>
<text transform="translate(23.40 411.13) rotate(-90)">15</text>
<text transform="translate(23.40 438.98) rotate(-90)">16</text>
</g>
<text class="l" x="252.20" y="475.80">Sensor ID</text>
<text class="l" transform="translate(13.55 230.95) rotate(-90)">Sensor ID</text>
<rect x="504.20" y="7.40" width="22.00" height="445.50" fill="url(#cb)"/>
<g class="k">
<path d="M526.20 7.40h2.40"/>
<path d="M526.20 69.02h2.40"/>
<path d="M526.20 130.64h2.40"/>
<path d="M526.20 192.25h2.40"/>
<path d="M526.20 253.87h2.40"/>
<path d="M526.20 315.49h2.40"/>
<path d="M526.20 377.11h2.40"/>
<path d="M526.20 438.73h2.40"/>
</g><g class="t">
<text x="530.50" y="9.74">1.0</text>
<text x="530.50" y="71.36">0.8</text>
<text x="530.50" y="132.97">0.6</text>
<text x="530.50" y="194.59">0.4</text>
<text x="530.50" y="256.21">0.2</text>
<text x="530.50" y="317.83">0.0</text>
<text x="530.50" y="379.45">−0.2</text>
<text x="530.50" y="441.07">−0.4</text>
</g>
</svg></body></html>
